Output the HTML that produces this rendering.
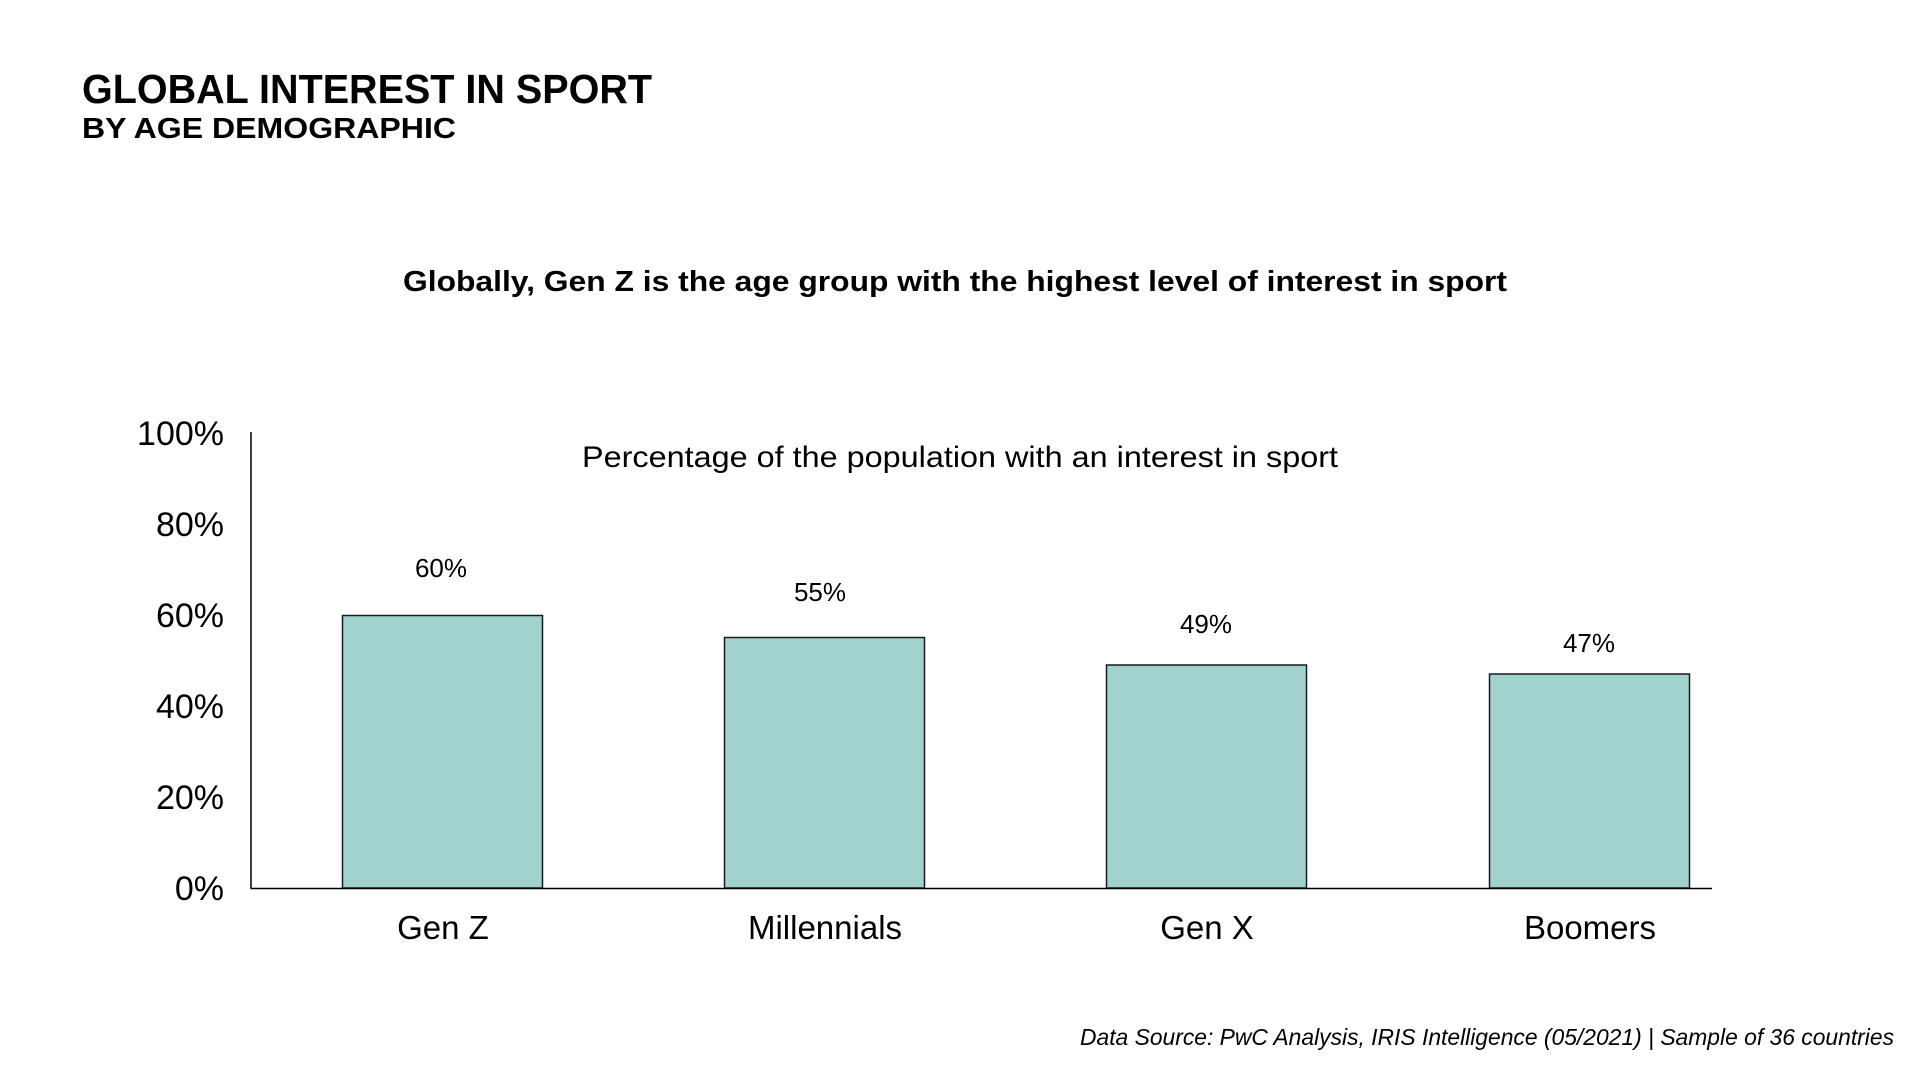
<!DOCTYPE html>
<html><head><meta charset="utf-8"><style>
html,body{margin:0;padding:0;background:#fff;}
svg{display:block;}
text{font-family:"Liberation Sans",Arial,sans-serif;fill:#000;}
</style></head><body>
<svg width="1920" height="1080" viewBox="0 0 1920 1080" xmlns="http://www.w3.org/2000/svg">
<text x="82" y="103" font-size="41" font-weight="bold" textLength="570" lengthAdjust="spacingAndGlyphs">GLOBAL INTEREST IN SPORT</text>
<text x="82" y="138" font-size="29" font-weight="bold" textLength="374" lengthAdjust="spacingAndGlyphs">BY AGE DEMOGRAPHIC</text>
<text x="403" y="291" font-size="29" font-weight="bold" textLength="1104" lengthAdjust="spacingAndGlyphs">Globally, Gen Z is the age group with the highest level of interest in sport</text>
<text x="582" y="467" font-size="30" textLength="756" lengthAdjust="spacingAndGlyphs">Percentage of the population with an interest in sport</text>
<g font-size="34" text-anchor="end">
<text x="224" y="445">100%</text>
<text x="224" y="536">80%</text>
<text x="224" y="627">60%</text>
<text x="224" y="718">40%</text>
<text x="224" y="809">20%</text>
<text x="224" y="900">0%</text>
</g>
<g fill="#a2d2ce" stroke="#1a1a1a" stroke-width="1.5">
<rect x="342.5" y="615.5" width="200" height="272.5"/>
<rect x="724.5" y="637.5" width="200" height="250.5"/>
<rect x="1106.5" y="665" width="200" height="223"/>
<rect x="1489.5" y="674" width="200" height="214"/>
</g>
<line x1="251" y1="432" x2="251" y2="888.5" stroke="#000" stroke-width="1.5"/>
<line x1="250.5" y1="888.5" x2="1712" y2="888.5" stroke="#000" stroke-width="1.5"/>
<g font-size="26" text-anchor="middle">
<text x="441" y="577">60%</text>
<text x="820" y="601">55%</text>
<text x="1206" y="633">49%</text>
<text x="1589" y="652">47%</text>
</g>
<g font-size="33" text-anchor="middle">
<text x="443" y="939">Gen Z</text>
<text x="825" y="939">Millennials</text>
<text x="1207" y="939">Gen X</text>
<text x="1590" y="939">Boomers</text>
</g>
<text x="1080" y="1045" font-size="23" font-style="italic" textLength="814" lengthAdjust="spacingAndGlyphs">Data Source: PwC Analysis, IRIS Intelligence (05/2021) | Sample of 36 countries</text>
</svg>
</body></html>
